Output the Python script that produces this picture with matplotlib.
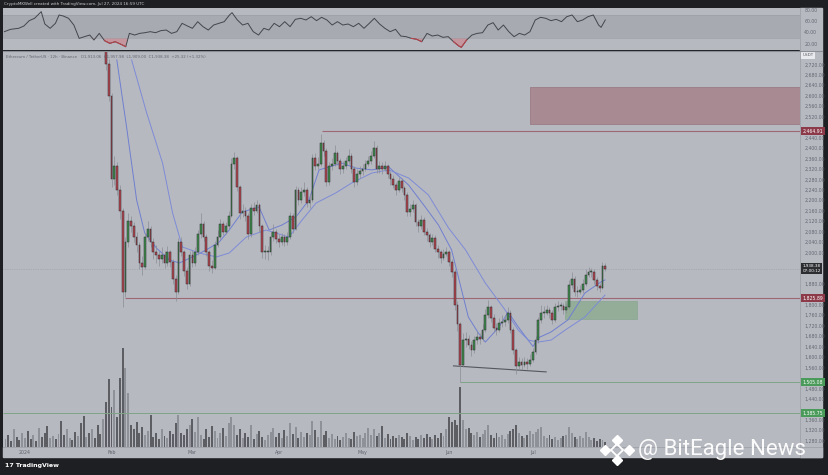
import numpy as np
import matplotlib.pyplot as plt
from matplotlib.patches import Rectangle
from matplotlib.lines import Line2D
import matplotlib.transforms as mtransforms

# daily candles, day 0 = 1 Jan 2024
first_day = 29
first_open = 2900
closes = [
    2720, 2600, 2280, 2330, 2240, 2160, 1850, 2040, 2120, 2100,
    2060, 2030, 1960, 1945, 2060, 2090, 2040, 2000, 1990, 1975,
    1990, 1960, 2000, 1965, 1900, 1850, 2040, 2000, 1930, 1880,
    1990, 1960, 2000, 2070, 2110, 2060, 2000, 1950, 1940, 2030,
    2060, 2110, 2080, 2100, 2140, 2340, 2360, 2250, 2150, 2160,
    2140, 2070, 2170, 2160, 2180, 2100, 2000, 2000, 2000, 2060,
    2080, 2050, 2040, 2060, 2040, 2060, 2140, 2090, 2240, 2200,
    2230, 2240, 2190, 2200, 2360, 2330, 2340, 2420, 2390, 2270,
    2330, 2340, 2380, 2350, 2320, 2330, 2350, 2370, 2320, 2270,
    2300, 2310, 2320, 2340, 2350, 2370, 2400, 2320, 2330, 2320,
    2330, 2300, 2280, 2260, 2240, 2275, 2245, 2220, 2155, 2165,
    2180, 2115, 2100, 2125, 2080, 2065, 2040, 2055, 2015, 2000,
    1980, 1995, 2000, 1965, 1925, 1800, 1725, 1570, 1665, 1670,
    1645, 1625, 1665, 1675, 1670, 1705, 1760, 1790, 1750, 1710,
    1705, 1730, 1735, 1740, 1770, 1705, 1625, 1565, 1580, 1570,
    1580, 1575, 1590, 1620, 1665, 1740, 1770, 1770, 1780, 1770,
    1740, 1790, 1795, 1795, 1780, 1790, 1875, 1900, 1850, 1850,
    1855, 1880, 1915, 1925, 1925, 1895, 1870, 1865, 1950, 1938.38,
]
highs = [
    2930, 2740, 2610, 2370, 2345, 2260, 2170, 2060, 2150, 2140,
    2115, 2080, 2040, 1985, 2075, 2120, 2100, 2055, 2030, 2005,
    2020, 2005, 2025, 2010, 1975, 1915, 2055, 2060, 2010, 1945,
    2005, 2010, 2020, 2085, 2150, 2120, 2070, 2010, 1970, 2045,
    2085, 2130, 2120, 2115, 2160, 2360, 2385, 2370, 2260, 2185,
    2175, 2150, 2185, 2195, 2200, 2190, 2110, 2030, 2025, 2080,
    2110, 2090, 2070, 2075, 2070, 2080, 2155, 2150, 2255, 2250,
    2250, 2270, 2250, 2225, 2375, 2380, 2365, 2455, 2430, 2400,
    2345, 2360, 2410, 2390, 2360, 2350, 2365, 2395, 2380, 2330,
    2320, 2330, 2340, 2355, 2370, 2390, 2425, 2410, 2350, 2345,
    2350, 2340, 2310, 2295, 2270, 2290, 2285, 2255, 2230, 2185,
    2200, 2190, 2130, 2145, 2135, 2095, 2075, 2070, 2065, 2030,
    2010, 2015, 2020, 2010, 1975, 1935, 1815, 1735, 1690, 1695,
    1685, 1660, 1680, 1700, 1690, 1725, 1785, 1820, 1800, 1765,
    1730, 1750, 1760, 1760, 1790, 1780, 1715, 1635, 1600, 1595,
    1600, 1595, 1610, 1635, 1680, 1755, 1800, 1795, 1800, 1790,
    1780, 1805, 1815, 1810, 1805, 1805, 1895, 1925, 1910, 1870,
    1875, 1900, 1935, 1945, 1940, 1935, 1905, 1885, 1965, 1958,
]
lows = [
    2700, 2580, 2250, 2260, 2220, 2130, 1790, 1830, 2020, 2080,
    2040, 2000, 1935, 1915, 1935, 2045, 2020, 1975, 1960, 1950,
    1960, 1940, 1950, 1945, 1880, 1815, 1840, 1985, 1910, 1860,
    1870, 1945, 1950, 1990, 2055, 2045, 1985, 1930, 1920, 1935,
    2020, 2050, 2065, 2070, 2090, 2135, 2320, 2235, 2130, 2135,
    2120, 2050, 2060, 2145, 2150, 2080, 1980, 1975, 1970, 1990,
    2045, 2035, 2020, 2030, 2025, 2030, 2050, 2075, 2085, 2180,
    2190, 2215, 2175, 2170, 2195, 2315, 2320, 2330, 2370, 2255,
    2260, 2315, 2330, 2335, 2300, 2305, 2320, 2340, 2305, 2250,
    2260, 2285, 2295, 2310, 2330, 2340, 2360, 2305, 2305, 2300,
    2310, 2285, 2260, 2245, 2220, 2230, 2230, 2200, 2140, 2140,
    2155, 2100, 2080, 2090, 2065, 2045, 2020, 2030, 2000, 1980,
    1960, 1970, 1985, 1950, 1905, 1780, 1700, 1505, 1560, 1640,
    1630, 1605, 1615, 1650, 1650, 1660, 1695, 1750, 1735, 1695,
    1685, 1695, 1715, 1720, 1730, 1690, 1610, 1535, 1550, 1555,
    1560, 1555, 1565, 1580, 1610, 1655, 1730, 1750, 1760, 1750,
    1725, 1735, 1775, 1780, 1765, 1770, 1785, 1865, 1835, 1830,
    1840, 1845, 1870, 1905, 1905, 1880, 1855, 1850, 1860, 1930,
]

# volume bars (one per day), starting 7 days before 1 Jan
vol_first_day = -7
volumes = [
    8, 12, 6, 18, 10, 7, 14,
    9, 16, 8, 12, 6, 19, 10, 14, 21, 9,
    11, 8, 13, 26, 12, 18, 9, 7, 15, 11,
    24, 31, 10, 14, 18, 9, 22, 13, 28, 45,
    68, 40, 57, 30, 69, 99, 79, 54, 22, 18,
    25, 14, 20, 12, 16, 32, 10, 14, 8, 18,
    11, 9, 16, 13, 24, 32, 14, 12, 18, 22,
    28, 15, 30, 12, 8, 18, 10, 21, 16, 9,
    14, 19, 11, 24, 30, 22, 12, 18, 9, 14,
    10, 22, 8, 13, 16, 10, 7, 12, 15, 19,
    10, 14, 9, 17, 11, 24, 13, 20, 9, 15,
    10, 14, 12, 26, 17, 10, 26, 12, 16, 9,
    13, 8, 11, 7, 10, 14, 9, 8, 15, 11,
    12, 9, 14, 19, 12, 18, 11, 14, 21, 9,
    13, 8, 11, 9, 12, 10, 8, 14, 11, 7,
    10, 8, 12, 9, 13, 10, 8, 12, 9, 14,
    11, 18, 30, 25, 27, 22, 60, 27, 18, 19,
    14, 12, 15, 10, 13, 17, 22, 12, 9, 14,
    10, 12, 8, 13, 16, 18, 22, 14, 11, 9,
    12, 16, 13, 15, 18, 20, 11, 9, 12, 8,
    10, 7, 9, 11, 12, 20, 14, 10, 8, 11,
    9, 15, 10, 7, 9, 6, 8, 7, 5,
]
# up/down of the bars before the first visible candle
early_dirs = "uddud" "duudd" "ududd" "duudu" "dduud" "duddu" "duddd" "u"

# the two moving averages (read at points)
fast_days = [32.9, 36.4, 40, 42.9, 47.1, 51.8, 55.4, 60, 65, 69.6, 73.2, 77.9, 83.9,
             87.5, 92.1, 97.1, 101.8, 105.4, 108.9, 113.6, 118.6, 124.3, 130.4, 137.5,
             142.9, 148.2, 152.9, 158.9, 162.5, 165, 169.6, 173.2, 176.8, 182.1, 183.9,
             188.6, 194.6, 200.7, 206.4, 207.9]
fast_vals = [2737, 2480, 2201, 2075, 2017, 1971, 1960, 1983, 2010, 2040, 2086, 2155, 2174,
             2086, 2105, 2136, 2201, 2316, 2327, 2342, 2323, 2316, 2327, 2258,
             2182, 2105, 2010, 1753, 1692, 1657, 1711, 1772, 1715, 1640, 1673,
             1696, 1742, 1845, 1887, 1895]
slow_days = [38.2, 43.6, 49.3, 52.9, 56.4, 62.5, 68.6, 73.2, 79.3, 86.4, 94.6, 99.3, 104.3,
             111.4, 117.1, 124.3, 130.4, 137.5, 144.6, 151.8, 157.9, 165, 172.1, 176.8,
             180.4, 183.9, 188.6, 193.6, 200.7, 207.9]
slow_vals = [2737, 2534, 2342, 2151, 2021, 1998, 1983, 1998, 2059, 2086, 2059, 2124, 2189,
             2228, 2266, 2304, 2316, 2285, 2220, 2094, 2010, 1883, 1780, 1703,
             1665, 1657, 1665, 1703, 1753, 1837]

# RSI
rsi_days = [-7.4, -5.2, -2.3, -0.4, 1.5, 3.4, 5.2, 5.8, 7.1, 9.0, 10.9, 12.2, 13.7, 15.6,
            17.5, 19.4, 21.3, 23.2, 24.7, 26.6, 28.5, 30.4, 32.3, 34.2, 36.1, 37.4, 39.3,
            41.1, 43.0, 44.9, 46.8, 48.7, 50.6, 52.5, 54.4, 56.3, 58.2, 60.0, 61.9, 63.8,
            65.7, 67.6, 69.5, 71.4, 73.3, 74.2, 76.1, 78.0, 79.9, 81.8, 83.7, 85.6, 87.4,
            89.3, 91.2, 93.1, 95.0, 96.9, 98.8, 100.7, 102.6, 104.5, 106.3, 108.2, 110.1,
            112.0, 113.9, 115.8, 117.7, 119.6, 121.5, 123.4, 125.2, 127.1, 129.0, 130.9,
            132.8, 134.7, 136.6, 138.5, 140.4, 142.2, 144.1, 146.0, 147.9, 149.8, 151.7,
            153.6, 155.5, 156.4, 158.3, 160.2, 162.1, 164.0, 165.9, 167.8, 169.6, 171.5,
            173.4, 175.3, 177.2, 179.1, 181.0, 182.9, 184.8, 186.7, 188.5, 190.4, 192.3,
            194.2, 196.1, 198.0, 199.9, 201.8, 203.7, 205.6, 206.5, 208.0]
rsi_vals = [41.2, 45.3, 47.1, 51.2, 60.6, 64.7, 73.5, 76.5, 54.7, 47.1, 55.9, 70.6, 68.8, 64.7,
            52.9, 29.4, 32.4, 35.3, 26.5, 38.2, 25.3, 20.6, 23.5, 19.4, 14.7, 38.2, 35.3,
            38.2, 39.4, 41.2, 39.4, 43.0, 44.1, 38.2, 41.2, 55.9, 51.2, 47.1, 58.8, 50.0,
            44.1, 52.9, 55.9, 58.8, 70.6, 74.7, 61.8, 52.9, 55.9, 41.2, 35.3, 47.1, 44.1,
            55.9, 50.0, 58.8, 50.0, 62.9, 64.7, 61.8, 67.6, 60.6, 66.5, 61.8, 52.9,
            58.8, 52.9, 54.7, 50.0, 55.9, 47.1, 55.9, 64.7, 54.7, 47.1, 41.2,
            45.3, 33.5, 32.4, 29.4, 27.7, 23.5, 38.2, 33.5, 35.3, 31.2, 32.4,
            23.5, 15.9, 13.6, 26.5, 35.3, 38.2, 39.4, 52.9, 57.1, 44.1, 52.9,
            41.2, 32.4, 38.2, 35.3, 41.2, 61.8, 66.5, 64.7, 60.6, 62.9, 58.8,
            67.6, 70.6, 58.8, 61.8, 67.6, 70.6, 52.9, 48.8, 61.8]

month_days = [0, 31, 60, 91, 121, 152, 182]
month_labels = ['2024', 'Feb', 'Mar', 'Apr', 'May', 'Jun', 'Jul']

last_price = 1938.38
red_levels = [(2464.91, 106.4), (1825.89, 35.8)]
green_levels = [(1505.08, 156.0), (1385.75, -8)]
trend_days = [153.6, 186.8]
trend_vals = [1566, 1543]
supply_zone = (181, 2492, 2633)     # start day, low, high
demand_zone = (193.5, 219.3, 1745, 1814)

W, H = 829, 475
pane = '#b7b9c1'
fig = plt.figure(figsize=(W / 100, H / 100), dpi=100, facecolor='#1e1f22')


def fx(px):
    return px / W


def fy(py):
    return 1 - py / H


# axis strips (price scale on the right, dates at the bottom)
fig.patches.append(Rectangle((fx(800), fy(457)), fx(822) - fx(800), fy(8) - fy(457),
                             transform=fig.transFigure, color=pane, zorder=-10))
fig.patches.append(Rectangle((fx(3), fy(457)), fx(822) - fx(3), fy(447) - fy(457),
                             transform=fig.transFigure, color=pane, zorder=-10))

rect = [fx(3), fy(447), fx(800) - fx(3), fy(52) - fy(447)]
vol_ax = fig.add_axes(rect)
ax = fig.add_axes(rect, sharex=vol_ax)
ax.patch.set_alpha(0)
rsi_ax = fig.add_axes([fx(3), fy(50), fx(800) - fx(3), fy(8) - fy(50)], sharex=vol_ax)

xmin, xmax = -7.9, 277.8

# volume
closes = np.array(closes)
opens = np.r_[first_open, closes[:-1]]
up = closes >= opens
vol_days = np.arange(vol_first_day, vol_first_day + len(volumes))
vol_colors = []
for d in vol_days:
    if d < first_day:
        k = d - vol_first_day
        is_up = early_dirs[k] == 'u' if k < len(early_dirs) else True
    else:
        is_up = up[d - first_day]
    vol_colors.append('#8f9198' if is_up else '#5c5e64')
vol_ax.bar(vol_days, volumes, width=0.7, color=vol_colors, linewidth=0)
vol_ax.set_ylim(0, 395)
vol_ax.set_facecolor(pane)
vol_ax.tick_params(left=False, bottom=False, labelleft=False, labelbottom=False)
for s in vol_ax.spines.values():
    s.set_visible(False)

# zones and levels
ax.add_patch(Rectangle((supply_zone[0], supply_zone[1]), xmax - supply_zone[0],
                       supply_zone[2] - supply_zone[1], fc='#a88a93', ec='#9a7c86', lw=0.6, zorder=1))
ax.add_patch(Rectangle((demand_zone[0], demand_zone[2]), demand_zone[1] - demand_zone[0],
                       demand_zone[3] - demand_zone[2], fc='#93ad99', ec='#8aa690', lw=0.5, zorder=1))
for price, start in red_levels:
    ax.hlines(price, start, xmax, color='#9c6873', lw=0.8, zorder=2)
for price, start in green_levels:
    ax.hlines(price, start, xmax, color='#7ea486', lw=0.7, zorder=2)
ax.axhline(last_price, color='#9a9ca4', lw=0.5, ls=(0, (1, 1.5)), zorder=2)
ax.plot(trend_days, trend_vals, color='#55575d', lw=0.8, zorder=2)

# moving averages
ax.plot(fast_days, fast_vals, color='#6f7fcf', lw=0.7, zorder=3)
ax.plot(slow_days, slow_vals, color='#7d8bd6', lw=0.7, zorder=3)

# candles
days = np.arange(first_day, first_day + len(closes))
ax.vlines(days, lows, highs, color='#8b8d94', lw=0.5, zorder=4)
body_bottom = np.minimum(opens, closes)
body_h = np.maximum(np.abs(closes - opens), 4)
ax.bar(days, body_h, bottom=body_bottom, width=0.62,
       color=np.where(up, '#3e8b4b', '#b4464f'), edgecolor='#2c2d30', linewidth=0.35, zorder=5)

ax.set_xlim(xmin, xmax)
ax.set_ylim(1255.6, 2767.2)
ax.yaxis.tick_right()
label_prices = [p for p, _ in red_levels + green_levels] + [last_price]
ticks = [t for t in np.arange(1280, 2721, 40)
         if min(abs(t - p) for p in label_prices) > 24]
ax.set_yticks(ticks)
ax.set_yticklabels([f'{t:,.2f}' for t in ticks])
ax.tick_params(axis='y', length=0, labelsize=3.3, labelcolor='#646771', pad=3)
ax.set_xticks(month_days)
ax.set_xticklabels(month_labels)
ax.tick_params(axis='x', length=0, labelsize=3.4, labelcolor='#5f626b', pad=2.2)
for s in ax.spines.values():
    s.set_visible(False)

# price labels on the axis
trans = mtransforms.blended_transform_factory(ax.transAxes, ax.transData)
xl = 1 + 2.5 / 797
for price, _ in red_levels:
    ax.text(xl, price, f'{price:,.2f}', transform=trans, fontsize=3.3, color='white',
            va='center', ha='left', zorder=10,
            bbox=dict(boxstyle='square,pad=0.35', fc='#8c3a49', ec='none'))
for price, _ in green_levels:
    ax.text(xl, price, f'{price:,.2f}', transform=trans, fontsize=3.3, color='white',
            va='center', ha='left', zorder=10,
            bbox=dict(boxstyle='square,pad=0.35', fc='#4a9a5a', ec='none'))
ax.text(xl, last_price, f'{last_price:,.2f}\n07:00:12', transform=trans, fontsize=3.0,
        color='white', va='center', ha='left', linespacing=1.1, zorder=10,
        bbox=dict(boxstyle='square,pad=0.35', fc='#2b2d31', ec='none'))
ax.text(xl, 1 - 3 / 395, 'USDT', transform=ax.transAxes, fontsize=3.0, color='#55575e',
        va='center', ha='left', zorder=10,
        bbox=dict(boxstyle='square,pad=0.4', fc='#e9eaee', ec='none'))

# RSI pane
rsi_vals = np.array(rsi_vals)
rsi_ax.set_facecolor(pane)
rsi_ax.axhspan(30, 70, color='#a8aab2', lw=0)
rsi_ax.axhline(70, color='#9a9ca4', lw=0.4)
rsi_ax.axhline(30, color='#9a9ca4', lw=0.4)
rsi_ax.fill_between(rsi_days, rsi_vals, 30, where=rsi_vals < 30, interpolate=True,
                    color='#d27a80', alpha=0.55, lw=0)
rsi_ax.plot(rsi_days, rsi_vals, color='#44464c', lw=0.7)
rsi_ax.plot(rsi_days, np.where(rsi_vals < 30, rsi_vals, np.nan), color='#c0404a', lw=0.7)
rsi_ax.set_ylim(8.9, 82.9)
rsi_ax.yaxis.tick_right()
rsi_ax.set_yticks([20, 40, 60, 80])
rsi_ax.set_yticklabels(['20.00', '40.00', '60.00', '80.00'])
rsi_ax.tick_params(axis='y', length=0, labelsize=3.3, labelcolor='#646771', pad=3)
rsi_ax.tick_params(axis='x', bottom=False, labelbottom=False)
for s in rsi_ax.spines.values():
    s.set_visible(False)

# pane separators
fig.add_artist(Line2D([fx(800), fx(800)], [fy(8), fy(457)], color='#a0a2a9', lw=0.6))
fig.add_artist(Line2D([fx(3), fx(822)], [fy(447), fy(447)], color='#a0a2a9', lw=0.6))
fig.add_artist(Line2D([fx(3), fx(822)], [fy(51), fy(51)], color='#8c8e95', lw=0.8))

# header and legend texts
fig.text(fx(4), fy(4), 'CryptoMKWell created with TradingView.com, Jul 27, 2024 16:59 UTC',
         fontsize=3, color='#c9c9cc', va='center')
fig.text(fx(6), fy(56.5), 'Ethereum / TetherUS · 12h · Binance   O1,913.06  H1,957.98  '
         'L1,909.00  C1,938.38  +25.32 (+1.32%)', fontsize=2.8, color='#62656e', va='center')
fig.text(fx(5), fy(466), '17 TradingView', fontsize=4.5, color='white', weight='bold', va='center')

# watermark
for (px, py, ms) in [(617, 440, 4.8), (617, 460, 4.8), (605, 450, 4.8), (629, 450, 4.8)]:
    fig.add_artist(Line2D([fx(px)], [fy(py)], marker='D', ms=ms, color='white',
                          mec='white', transform=fig.transFigure))
fig.add_artist(Line2D([fx(617)], [fy(450)], marker='D', ms=6.5, color='none',
                      mec='white', mew=1.3, transform=fig.transFigure))
fig.text(fx(638), fy(450), '@ BitEagle News', fontsize=16, color='white', va='center',
         family='Roboto', alpha=0.95)

plt.savefig('out.png', dpi=100, facecolor=fig.get_facecolor())
